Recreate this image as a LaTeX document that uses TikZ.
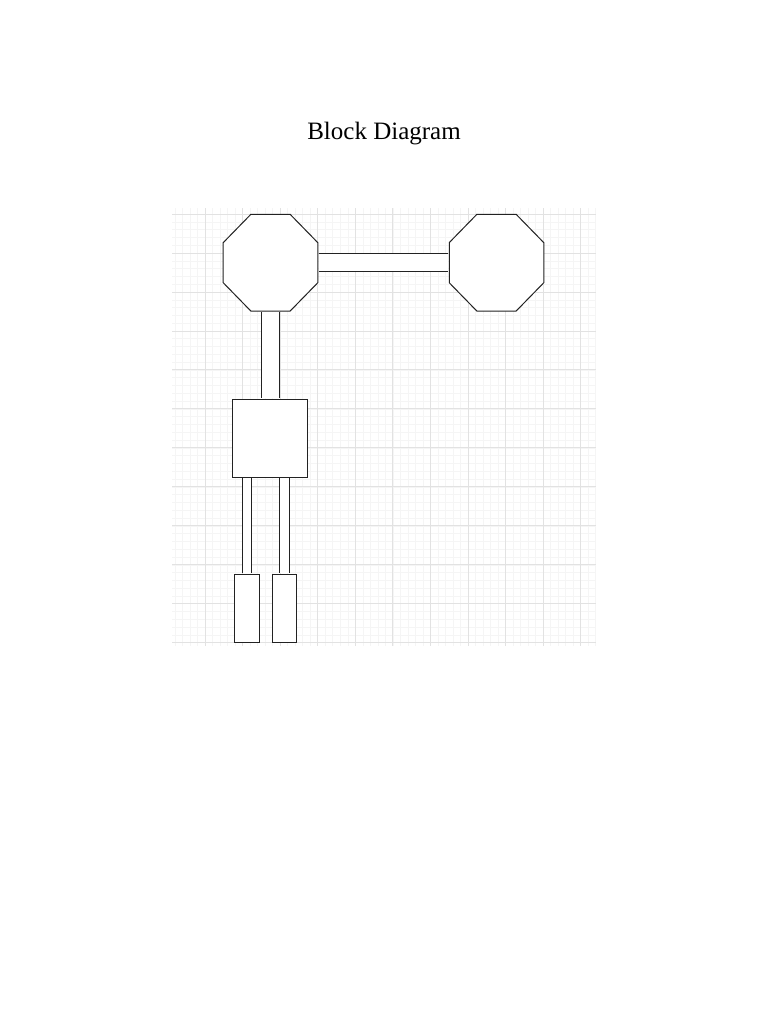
\documentclass[tikz,border=0pt]{standalone}
\usepackage{fontspec}
\setmainfont{Liberation Serif}
\usepackage{xcolor}
\definecolor{grid-major}{HTML}{E2E2E2}
\definecolor{grid-minor}{HTML}{F5F5F5}
\definecolor{ink}{HTML}{222222}
\usepackage{tikz}
\usetikzlibrary{shapes.geometric}
\tikzset{hub/.style = {draw=ink, fill=white, line width=1pt, regular polygon, regular polygon sides=8, minimum size=102.3pt, inner sep=0pt, yscale=1.025}}
\tikzset{block/.style = {draw=ink, fill=white, line width=1pt, rectangle, inner sep=0pt, minimum width=75.4pt, minimum height=77.7pt}}
\tikzset{pin/.style = {draw=ink, fill=white, line width=1pt, rectangle, inner sep=0pt, minimum height=68.3pt}}
\tikzset{bus/.style = {draw=ink, line width=1pt, double=white, double distance=17.4pt, shorten >=.5pt, shorten <=.5pt}}
\tikzset{lead/.style = {draw=ink, line width=1pt, double=white, double distance=8.2pt, shorten >=.5pt, shorten <=.5pt}}

\begin{document}
\begin{tikzpicture}[x=1pt, y=1pt]

\useasboundingbox[fill=white] (0,0) rectangle (768,1024);

% grid paper
\begin{scope}[shift={(205,381.3)}]
  \draw[grid-minor, line width=.5pt, xstep=7.514pt, ystep=7.794pt] (-33,-3.3) grid (391,434.7);
  \draw[grid-major, line width=.8pt, xstep=37.57pt, ystep=38.97pt] (-33,-3.3) grid (391,434.7);
\end{scope}

\node[anchor=base, font=\fontsize{25}{30}\selectfont] (title) at (384,884.5) {Block Diagram};

\node[hub] (hubL) at (270.5,761.3) {};
\node[hub] (hubR) at (496.5,761.3) {};
\node[block] (core) at (270,585.8) {};
\node[pin, minimum width=25.5pt] (pinA) at (247,415.5) {};
\node[pin, minimum width=24.5pt] (pinB) at (284.5,415.5) {};

\draw[bus]  (hubL) -- (hubR);
\draw[bus]  (hubL.south) -- (hubL.south |- core.north);
\draw[lead] (pinA.north |- core.south) -- (pinA.north);
\draw[lead] (pinB.north |- core.south) -- (pinB.north);

\end{tikzpicture}
\end{document}
